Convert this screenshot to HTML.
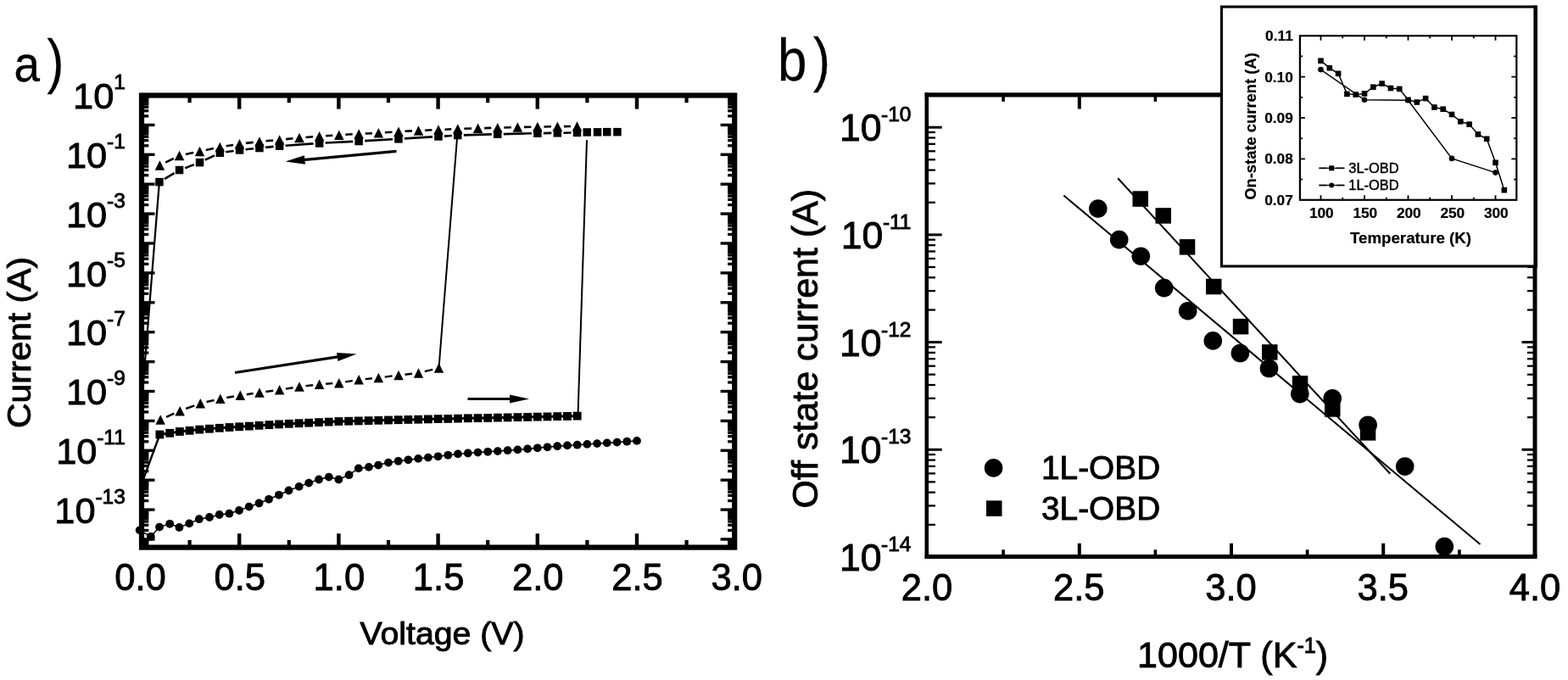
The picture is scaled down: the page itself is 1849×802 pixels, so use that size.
<!DOCTYPE html>
<html><head><meta charset="utf-8"><title>Figure</title>
<style>html,body{margin:0;padding:0;background:#fff;}svg{display:block}text{font-family:"Liberation Sans",Arial,sans-serif;fill:#000;stroke:#000;stroke-width:0.9px}</style>
</head><body>
<svg width="1849" height="802" viewBox="0 0 1849 802">
<rect width="1849" height="802" fill="#fff"/>
<line x1="167.0" y1="136.9" x2="175.3" y2="136.9" stroke="#000" stroke-width="3.3" />
<line x1="866.2" y1="136.9" x2="858.2" y2="136.9" stroke="#000" stroke-width="3.3" />
<line x1="167.0" y1="130.7" x2="175.3" y2="130.7" stroke="#000" stroke-width="3.3" />
<line x1="866.2" y1="130.7" x2="858.2" y2="130.7" stroke="#000" stroke-width="3.3" />
<line x1="167.0" y1="126.4" x2="175.3" y2="126.4" stroke="#000" stroke-width="3.3" />
<line x1="866.2" y1="126.4" x2="858.2" y2="126.4" stroke="#000" stroke-width="3.3" />
<line x1="167.0" y1="123.0" x2="175.3" y2="123.0" stroke="#000" stroke-width="3.3" />
<line x1="866.2" y1="123.0" x2="858.2" y2="123.0" stroke="#000" stroke-width="3.3" />
<line x1="167.0" y1="120.2" x2="175.3" y2="120.2" stroke="#000" stroke-width="3.3" />
<line x1="866.2" y1="120.2" x2="858.2" y2="120.2" stroke="#000" stroke-width="3.3" />
<line x1="167.0" y1="117.9" x2="175.3" y2="117.9" stroke="#000" stroke-width="3.3" />
<line x1="866.2" y1="117.9" x2="858.2" y2="117.9" stroke="#000" stroke-width="3.3" />
<line x1="167.0" y1="115.9" x2="175.3" y2="115.9" stroke="#000" stroke-width="3.3" />
<line x1="866.2" y1="115.9" x2="858.2" y2="115.9" stroke="#000" stroke-width="3.3" />
<line x1="167.0" y1="114.1" x2="175.3" y2="114.1" stroke="#000" stroke-width="3.3" />
<line x1="866.2" y1="114.1" x2="858.2" y2="114.1" stroke="#000" stroke-width="3.3" />
<line x1="167.0" y1="147.4" x2="182.5" y2="147.4" stroke="#000" stroke-width="3.4" />
<line x1="866.2" y1="147.4" x2="849.6" y2="147.4" stroke="#000" stroke-width="3.4" />
<line x1="167.0" y1="171.8" x2="175.3" y2="171.8" stroke="#000" stroke-width="3.3" />
<line x1="866.2" y1="171.8" x2="858.2" y2="171.8" stroke="#000" stroke-width="3.3" />
<line x1="167.0" y1="165.6" x2="175.3" y2="165.6" stroke="#000" stroke-width="3.3" />
<line x1="866.2" y1="165.6" x2="858.2" y2="165.6" stroke="#000" stroke-width="3.3" />
<line x1="167.0" y1="161.3" x2="175.3" y2="161.3" stroke="#000" stroke-width="3.3" />
<line x1="866.2" y1="161.3" x2="858.2" y2="161.3" stroke="#000" stroke-width="3.3" />
<line x1="167.0" y1="157.9" x2="175.3" y2="157.9" stroke="#000" stroke-width="3.3" />
<line x1="866.2" y1="157.9" x2="858.2" y2="157.9" stroke="#000" stroke-width="3.3" />
<line x1="167.0" y1="155.1" x2="175.3" y2="155.1" stroke="#000" stroke-width="3.3" />
<line x1="866.2" y1="155.1" x2="858.2" y2="155.1" stroke="#000" stroke-width="3.3" />
<line x1="167.0" y1="152.8" x2="175.3" y2="152.8" stroke="#000" stroke-width="3.3" />
<line x1="866.2" y1="152.8" x2="858.2" y2="152.8" stroke="#000" stroke-width="3.3" />
<line x1="167.0" y1="150.8" x2="175.3" y2="150.8" stroke="#000" stroke-width="3.3" />
<line x1="866.2" y1="150.8" x2="858.2" y2="150.8" stroke="#000" stroke-width="3.3" />
<line x1="167.0" y1="149.0" x2="175.3" y2="149.0" stroke="#000" stroke-width="3.3" />
<line x1="866.2" y1="149.0" x2="858.2" y2="149.0" stroke="#000" stroke-width="3.3" />
<line x1="167.0" y1="182.3" x2="182.5" y2="182.3" stroke="#000" stroke-width="3.4" />
<line x1="866.2" y1="182.3" x2="849.6" y2="182.3" stroke="#000" stroke-width="3.4" />
<line x1="167.0" y1="206.7" x2="175.3" y2="206.7" stroke="#000" stroke-width="3.3" />
<line x1="866.2" y1="206.7" x2="858.2" y2="206.7" stroke="#000" stroke-width="3.3" />
<line x1="167.0" y1="200.5" x2="175.3" y2="200.5" stroke="#000" stroke-width="3.3" />
<line x1="866.2" y1="200.5" x2="858.2" y2="200.5" stroke="#000" stroke-width="3.3" />
<line x1="167.0" y1="196.2" x2="175.3" y2="196.2" stroke="#000" stroke-width="3.3" />
<line x1="866.2" y1="196.2" x2="858.2" y2="196.2" stroke="#000" stroke-width="3.3" />
<line x1="167.0" y1="192.8" x2="175.3" y2="192.8" stroke="#000" stroke-width="3.3" />
<line x1="866.2" y1="192.8" x2="858.2" y2="192.8" stroke="#000" stroke-width="3.3" />
<line x1="167.0" y1="190.0" x2="175.3" y2="190.0" stroke="#000" stroke-width="3.3" />
<line x1="866.2" y1="190.0" x2="858.2" y2="190.0" stroke="#000" stroke-width="3.3" />
<line x1="167.0" y1="187.7" x2="175.3" y2="187.7" stroke="#000" stroke-width="3.3" />
<line x1="866.2" y1="187.7" x2="858.2" y2="187.7" stroke="#000" stroke-width="3.3" />
<line x1="167.0" y1="185.7" x2="175.3" y2="185.7" stroke="#000" stroke-width="3.3" />
<line x1="866.2" y1="185.7" x2="858.2" y2="185.7" stroke="#000" stroke-width="3.3" />
<line x1="167.0" y1="183.9" x2="175.3" y2="183.9" stroke="#000" stroke-width="3.3" />
<line x1="866.2" y1="183.9" x2="858.2" y2="183.9" stroke="#000" stroke-width="3.3" />
<line x1="167.0" y1="217.2" x2="182.5" y2="217.2" stroke="#000" stroke-width="3.4" />
<line x1="866.2" y1="217.2" x2="849.6" y2="217.2" stroke="#000" stroke-width="3.4" />
<line x1="167.0" y1="241.6" x2="175.3" y2="241.6" stroke="#000" stroke-width="3.3" />
<line x1="866.2" y1="241.6" x2="858.2" y2="241.6" stroke="#000" stroke-width="3.3" />
<line x1="167.0" y1="235.4" x2="175.3" y2="235.4" stroke="#000" stroke-width="3.3" />
<line x1="866.2" y1="235.4" x2="858.2" y2="235.4" stroke="#000" stroke-width="3.3" />
<line x1="167.0" y1="231.1" x2="175.3" y2="231.1" stroke="#000" stroke-width="3.3" />
<line x1="866.2" y1="231.1" x2="858.2" y2="231.1" stroke="#000" stroke-width="3.3" />
<line x1="167.0" y1="227.7" x2="175.3" y2="227.7" stroke="#000" stroke-width="3.3" />
<line x1="866.2" y1="227.7" x2="858.2" y2="227.7" stroke="#000" stroke-width="3.3" />
<line x1="167.0" y1="224.9" x2="175.3" y2="224.9" stroke="#000" stroke-width="3.3" />
<line x1="866.2" y1="224.9" x2="858.2" y2="224.9" stroke="#000" stroke-width="3.3" />
<line x1="167.0" y1="222.6" x2="175.3" y2="222.6" stroke="#000" stroke-width="3.3" />
<line x1="866.2" y1="222.6" x2="858.2" y2="222.6" stroke="#000" stroke-width="3.3" />
<line x1="167.0" y1="220.6" x2="175.3" y2="220.6" stroke="#000" stroke-width="3.3" />
<line x1="866.2" y1="220.6" x2="858.2" y2="220.6" stroke="#000" stroke-width="3.3" />
<line x1="167.0" y1="218.8" x2="175.3" y2="218.8" stroke="#000" stroke-width="3.3" />
<line x1="866.2" y1="218.8" x2="858.2" y2="218.8" stroke="#000" stroke-width="3.3" />
<line x1="167.0" y1="252.1" x2="182.5" y2="252.1" stroke="#000" stroke-width="3.4" />
<line x1="866.2" y1="252.1" x2="849.6" y2="252.1" stroke="#000" stroke-width="3.4" />
<line x1="167.0" y1="276.5" x2="175.3" y2="276.5" stroke="#000" stroke-width="3.3" />
<line x1="866.2" y1="276.5" x2="858.2" y2="276.5" stroke="#000" stroke-width="3.3" />
<line x1="167.0" y1="270.3" x2="175.3" y2="270.3" stroke="#000" stroke-width="3.3" />
<line x1="866.2" y1="270.3" x2="858.2" y2="270.3" stroke="#000" stroke-width="3.3" />
<line x1="167.0" y1="266.0" x2="175.3" y2="266.0" stroke="#000" stroke-width="3.3" />
<line x1="866.2" y1="266.0" x2="858.2" y2="266.0" stroke="#000" stroke-width="3.3" />
<line x1="167.0" y1="262.6" x2="175.3" y2="262.6" stroke="#000" stroke-width="3.3" />
<line x1="866.2" y1="262.6" x2="858.2" y2="262.6" stroke="#000" stroke-width="3.3" />
<line x1="167.0" y1="259.8" x2="175.3" y2="259.8" stroke="#000" stroke-width="3.3" />
<line x1="866.2" y1="259.8" x2="858.2" y2="259.8" stroke="#000" stroke-width="3.3" />
<line x1="167.0" y1="257.5" x2="175.3" y2="257.5" stroke="#000" stroke-width="3.3" />
<line x1="866.2" y1="257.5" x2="858.2" y2="257.5" stroke="#000" stroke-width="3.3" />
<line x1="167.0" y1="255.5" x2="175.3" y2="255.5" stroke="#000" stroke-width="3.3" />
<line x1="866.2" y1="255.5" x2="858.2" y2="255.5" stroke="#000" stroke-width="3.3" />
<line x1="167.0" y1="253.7" x2="175.3" y2="253.7" stroke="#000" stroke-width="3.3" />
<line x1="866.2" y1="253.7" x2="858.2" y2="253.7" stroke="#000" stroke-width="3.3" />
<line x1="167.0" y1="287.0" x2="182.5" y2="287.0" stroke="#000" stroke-width="3.4" />
<line x1="866.2" y1="287.0" x2="849.6" y2="287.0" stroke="#000" stroke-width="3.4" />
<line x1="167.0" y1="311.4" x2="175.3" y2="311.4" stroke="#000" stroke-width="3.3" />
<line x1="866.2" y1="311.4" x2="858.2" y2="311.4" stroke="#000" stroke-width="3.3" />
<line x1="167.0" y1="305.2" x2="175.3" y2="305.2" stroke="#000" stroke-width="3.3" />
<line x1="866.2" y1="305.2" x2="858.2" y2="305.2" stroke="#000" stroke-width="3.3" />
<line x1="167.0" y1="300.9" x2="175.3" y2="300.9" stroke="#000" stroke-width="3.3" />
<line x1="866.2" y1="300.9" x2="858.2" y2="300.9" stroke="#000" stroke-width="3.3" />
<line x1="167.0" y1="297.5" x2="175.3" y2="297.5" stroke="#000" stroke-width="3.3" />
<line x1="866.2" y1="297.5" x2="858.2" y2="297.5" stroke="#000" stroke-width="3.3" />
<line x1="167.0" y1="294.7" x2="175.3" y2="294.7" stroke="#000" stroke-width="3.3" />
<line x1="866.2" y1="294.7" x2="858.2" y2="294.7" stroke="#000" stroke-width="3.3" />
<line x1="167.0" y1="292.4" x2="175.3" y2="292.4" stroke="#000" stroke-width="3.3" />
<line x1="866.2" y1="292.4" x2="858.2" y2="292.4" stroke="#000" stroke-width="3.3" />
<line x1="167.0" y1="290.4" x2="175.3" y2="290.4" stroke="#000" stroke-width="3.3" />
<line x1="866.2" y1="290.4" x2="858.2" y2="290.4" stroke="#000" stroke-width="3.3" />
<line x1="167.0" y1="288.6" x2="175.3" y2="288.6" stroke="#000" stroke-width="3.3" />
<line x1="866.2" y1="288.6" x2="858.2" y2="288.6" stroke="#000" stroke-width="3.3" />
<line x1="167.0" y1="321.9" x2="182.5" y2="321.9" stroke="#000" stroke-width="3.4" />
<line x1="866.2" y1="321.9" x2="849.6" y2="321.9" stroke="#000" stroke-width="3.4" />
<line x1="167.0" y1="346.3" x2="175.3" y2="346.3" stroke="#000" stroke-width="3.3" />
<line x1="866.2" y1="346.3" x2="858.2" y2="346.3" stroke="#000" stroke-width="3.3" />
<line x1="167.0" y1="340.1" x2="175.3" y2="340.1" stroke="#000" stroke-width="3.3" />
<line x1="866.2" y1="340.1" x2="858.2" y2="340.1" stroke="#000" stroke-width="3.3" />
<line x1="167.0" y1="335.8" x2="175.3" y2="335.8" stroke="#000" stroke-width="3.3" />
<line x1="866.2" y1="335.8" x2="858.2" y2="335.8" stroke="#000" stroke-width="3.3" />
<line x1="167.0" y1="332.4" x2="175.3" y2="332.4" stroke="#000" stroke-width="3.3" />
<line x1="866.2" y1="332.4" x2="858.2" y2="332.4" stroke="#000" stroke-width="3.3" />
<line x1="167.0" y1="329.6" x2="175.3" y2="329.6" stroke="#000" stroke-width="3.3" />
<line x1="866.2" y1="329.6" x2="858.2" y2="329.6" stroke="#000" stroke-width="3.3" />
<line x1="167.0" y1="327.3" x2="175.3" y2="327.3" stroke="#000" stroke-width="3.3" />
<line x1="866.2" y1="327.3" x2="858.2" y2="327.3" stroke="#000" stroke-width="3.3" />
<line x1="167.0" y1="325.3" x2="175.3" y2="325.3" stroke="#000" stroke-width="3.3" />
<line x1="866.2" y1="325.3" x2="858.2" y2="325.3" stroke="#000" stroke-width="3.3" />
<line x1="167.0" y1="323.5" x2="175.3" y2="323.5" stroke="#000" stroke-width="3.3" />
<line x1="866.2" y1="323.5" x2="858.2" y2="323.5" stroke="#000" stroke-width="3.3" />
<line x1="167.0" y1="356.8" x2="182.5" y2="356.8" stroke="#000" stroke-width="3.4" />
<line x1="866.2" y1="356.8" x2="849.6" y2="356.8" stroke="#000" stroke-width="3.4" />
<line x1="167.0" y1="381.2" x2="175.3" y2="381.2" stroke="#000" stroke-width="3.3" />
<line x1="866.2" y1="381.2" x2="858.2" y2="381.2" stroke="#000" stroke-width="3.3" />
<line x1="167.0" y1="375.0" x2="175.3" y2="375.0" stroke="#000" stroke-width="3.3" />
<line x1="866.2" y1="375.0" x2="858.2" y2="375.0" stroke="#000" stroke-width="3.3" />
<line x1="167.0" y1="370.7" x2="175.3" y2="370.7" stroke="#000" stroke-width="3.3" />
<line x1="866.2" y1="370.7" x2="858.2" y2="370.7" stroke="#000" stroke-width="3.3" />
<line x1="167.0" y1="367.3" x2="175.3" y2="367.3" stroke="#000" stroke-width="3.3" />
<line x1="866.2" y1="367.3" x2="858.2" y2="367.3" stroke="#000" stroke-width="3.3" />
<line x1="167.0" y1="364.5" x2="175.3" y2="364.5" stroke="#000" stroke-width="3.3" />
<line x1="866.2" y1="364.5" x2="858.2" y2="364.5" stroke="#000" stroke-width="3.3" />
<line x1="167.0" y1="362.2" x2="175.3" y2="362.2" stroke="#000" stroke-width="3.3" />
<line x1="866.2" y1="362.2" x2="858.2" y2="362.2" stroke="#000" stroke-width="3.3" />
<line x1="167.0" y1="360.2" x2="175.3" y2="360.2" stroke="#000" stroke-width="3.3" />
<line x1="866.2" y1="360.2" x2="858.2" y2="360.2" stroke="#000" stroke-width="3.3" />
<line x1="167.0" y1="358.4" x2="175.3" y2="358.4" stroke="#000" stroke-width="3.3" />
<line x1="866.2" y1="358.4" x2="858.2" y2="358.4" stroke="#000" stroke-width="3.3" />
<line x1="167.0" y1="391.7" x2="182.5" y2="391.7" stroke="#000" stroke-width="3.4" />
<line x1="866.2" y1="391.7" x2="849.6" y2="391.7" stroke="#000" stroke-width="3.4" />
<line x1="167.0" y1="416.1" x2="175.3" y2="416.1" stroke="#000" stroke-width="3.3" />
<line x1="866.2" y1="416.1" x2="858.2" y2="416.1" stroke="#000" stroke-width="3.3" />
<line x1="167.0" y1="409.9" x2="175.3" y2="409.9" stroke="#000" stroke-width="3.3" />
<line x1="866.2" y1="409.9" x2="858.2" y2="409.9" stroke="#000" stroke-width="3.3" />
<line x1="167.0" y1="405.6" x2="175.3" y2="405.6" stroke="#000" stroke-width="3.3" />
<line x1="866.2" y1="405.6" x2="858.2" y2="405.6" stroke="#000" stroke-width="3.3" />
<line x1="167.0" y1="402.2" x2="175.3" y2="402.2" stroke="#000" stroke-width="3.3" />
<line x1="866.2" y1="402.2" x2="858.2" y2="402.2" stroke="#000" stroke-width="3.3" />
<line x1="167.0" y1="399.4" x2="175.3" y2="399.4" stroke="#000" stroke-width="3.3" />
<line x1="866.2" y1="399.4" x2="858.2" y2="399.4" stroke="#000" stroke-width="3.3" />
<line x1="167.0" y1="397.1" x2="175.3" y2="397.1" stroke="#000" stroke-width="3.3" />
<line x1="866.2" y1="397.1" x2="858.2" y2="397.1" stroke="#000" stroke-width="3.3" />
<line x1="167.0" y1="395.1" x2="175.3" y2="395.1" stroke="#000" stroke-width="3.3" />
<line x1="866.2" y1="395.1" x2="858.2" y2="395.1" stroke="#000" stroke-width="3.3" />
<line x1="167.0" y1="393.3" x2="175.3" y2="393.3" stroke="#000" stroke-width="3.3" />
<line x1="866.2" y1="393.3" x2="858.2" y2="393.3" stroke="#000" stroke-width="3.3" />
<line x1="167.0" y1="426.6" x2="182.5" y2="426.6" stroke="#000" stroke-width="3.4" />
<line x1="866.2" y1="426.6" x2="849.6" y2="426.6" stroke="#000" stroke-width="3.4" />
<line x1="167.0" y1="451.0" x2="175.3" y2="451.0" stroke="#000" stroke-width="3.3" />
<line x1="866.2" y1="451.0" x2="858.2" y2="451.0" stroke="#000" stroke-width="3.3" />
<line x1="167.0" y1="444.8" x2="175.3" y2="444.8" stroke="#000" stroke-width="3.3" />
<line x1="866.2" y1="444.8" x2="858.2" y2="444.8" stroke="#000" stroke-width="3.3" />
<line x1="167.0" y1="440.5" x2="175.3" y2="440.5" stroke="#000" stroke-width="3.3" />
<line x1="866.2" y1="440.5" x2="858.2" y2="440.5" stroke="#000" stroke-width="3.3" />
<line x1="167.0" y1="437.1" x2="175.3" y2="437.1" stroke="#000" stroke-width="3.3" />
<line x1="866.2" y1="437.1" x2="858.2" y2="437.1" stroke="#000" stroke-width="3.3" />
<line x1="167.0" y1="434.3" x2="175.3" y2="434.3" stroke="#000" stroke-width="3.3" />
<line x1="866.2" y1="434.3" x2="858.2" y2="434.3" stroke="#000" stroke-width="3.3" />
<line x1="167.0" y1="432.0" x2="175.3" y2="432.0" stroke="#000" stroke-width="3.3" />
<line x1="866.2" y1="432.0" x2="858.2" y2="432.0" stroke="#000" stroke-width="3.3" />
<line x1="167.0" y1="430.0" x2="175.3" y2="430.0" stroke="#000" stroke-width="3.3" />
<line x1="866.2" y1="430.0" x2="858.2" y2="430.0" stroke="#000" stroke-width="3.3" />
<line x1="167.0" y1="428.2" x2="175.3" y2="428.2" stroke="#000" stroke-width="3.3" />
<line x1="866.2" y1="428.2" x2="858.2" y2="428.2" stroke="#000" stroke-width="3.3" />
<line x1="167.0" y1="461.5" x2="182.5" y2="461.5" stroke="#000" stroke-width="3.4" />
<line x1="866.2" y1="461.5" x2="849.6" y2="461.5" stroke="#000" stroke-width="3.4" />
<line x1="167.0" y1="485.9" x2="175.3" y2="485.9" stroke="#000" stroke-width="3.3" />
<line x1="866.2" y1="485.9" x2="858.2" y2="485.9" stroke="#000" stroke-width="3.3" />
<line x1="167.0" y1="479.7" x2="175.3" y2="479.7" stroke="#000" stroke-width="3.3" />
<line x1="866.2" y1="479.7" x2="858.2" y2="479.7" stroke="#000" stroke-width="3.3" />
<line x1="167.0" y1="475.4" x2="175.3" y2="475.4" stroke="#000" stroke-width="3.3" />
<line x1="866.2" y1="475.4" x2="858.2" y2="475.4" stroke="#000" stroke-width="3.3" />
<line x1="167.0" y1="472.0" x2="175.3" y2="472.0" stroke="#000" stroke-width="3.3" />
<line x1="866.2" y1="472.0" x2="858.2" y2="472.0" stroke="#000" stroke-width="3.3" />
<line x1="167.0" y1="469.2" x2="175.3" y2="469.2" stroke="#000" stroke-width="3.3" />
<line x1="866.2" y1="469.2" x2="858.2" y2="469.2" stroke="#000" stroke-width="3.3" />
<line x1="167.0" y1="466.9" x2="175.3" y2="466.9" stroke="#000" stroke-width="3.3" />
<line x1="866.2" y1="466.9" x2="858.2" y2="466.9" stroke="#000" stroke-width="3.3" />
<line x1="167.0" y1="464.9" x2="175.3" y2="464.9" stroke="#000" stroke-width="3.3" />
<line x1="866.2" y1="464.9" x2="858.2" y2="464.9" stroke="#000" stroke-width="3.3" />
<line x1="167.0" y1="463.1" x2="175.3" y2="463.1" stroke="#000" stroke-width="3.3" />
<line x1="866.2" y1="463.1" x2="858.2" y2="463.1" stroke="#000" stroke-width="3.3" />
<line x1="167.0" y1="496.4" x2="182.5" y2="496.4" stroke="#000" stroke-width="3.4" />
<line x1="866.2" y1="496.4" x2="849.6" y2="496.4" stroke="#000" stroke-width="3.4" />
<line x1="167.0" y1="520.8" x2="175.3" y2="520.8" stroke="#000" stroke-width="3.3" />
<line x1="866.2" y1="520.8" x2="858.2" y2="520.8" stroke="#000" stroke-width="3.3" />
<line x1="167.0" y1="514.6" x2="175.3" y2="514.6" stroke="#000" stroke-width="3.3" />
<line x1="866.2" y1="514.6" x2="858.2" y2="514.6" stroke="#000" stroke-width="3.3" />
<line x1="167.0" y1="510.3" x2="175.3" y2="510.3" stroke="#000" stroke-width="3.3" />
<line x1="866.2" y1="510.3" x2="858.2" y2="510.3" stroke="#000" stroke-width="3.3" />
<line x1="167.0" y1="506.9" x2="175.3" y2="506.9" stroke="#000" stroke-width="3.3" />
<line x1="866.2" y1="506.9" x2="858.2" y2="506.9" stroke="#000" stroke-width="3.3" />
<line x1="167.0" y1="504.1" x2="175.3" y2="504.1" stroke="#000" stroke-width="3.3" />
<line x1="866.2" y1="504.1" x2="858.2" y2="504.1" stroke="#000" stroke-width="3.3" />
<line x1="167.0" y1="501.8" x2="175.3" y2="501.8" stroke="#000" stroke-width="3.3" />
<line x1="866.2" y1="501.8" x2="858.2" y2="501.8" stroke="#000" stroke-width="3.3" />
<line x1="167.0" y1="499.8" x2="175.3" y2="499.8" stroke="#000" stroke-width="3.3" />
<line x1="866.2" y1="499.8" x2="858.2" y2="499.8" stroke="#000" stroke-width="3.3" />
<line x1="167.0" y1="498.0" x2="175.3" y2="498.0" stroke="#000" stroke-width="3.3" />
<line x1="866.2" y1="498.0" x2="858.2" y2="498.0" stroke="#000" stroke-width="3.3" />
<line x1="167.0" y1="531.3" x2="182.5" y2="531.3" stroke="#000" stroke-width="3.4" />
<line x1="866.2" y1="531.3" x2="849.6" y2="531.3" stroke="#000" stroke-width="3.4" />
<line x1="167.0" y1="555.7" x2="175.3" y2="555.7" stroke="#000" stroke-width="3.3" />
<line x1="866.2" y1="555.7" x2="858.2" y2="555.7" stroke="#000" stroke-width="3.3" />
<line x1="167.0" y1="549.5" x2="175.3" y2="549.5" stroke="#000" stroke-width="3.3" />
<line x1="866.2" y1="549.5" x2="858.2" y2="549.5" stroke="#000" stroke-width="3.3" />
<line x1="167.0" y1="545.2" x2="175.3" y2="545.2" stroke="#000" stroke-width="3.3" />
<line x1="866.2" y1="545.2" x2="858.2" y2="545.2" stroke="#000" stroke-width="3.3" />
<line x1="167.0" y1="541.8" x2="175.3" y2="541.8" stroke="#000" stroke-width="3.3" />
<line x1="866.2" y1="541.8" x2="858.2" y2="541.8" stroke="#000" stroke-width="3.3" />
<line x1="167.0" y1="539.0" x2="175.3" y2="539.0" stroke="#000" stroke-width="3.3" />
<line x1="866.2" y1="539.0" x2="858.2" y2="539.0" stroke="#000" stroke-width="3.3" />
<line x1="167.0" y1="536.7" x2="175.3" y2="536.7" stroke="#000" stroke-width="3.3" />
<line x1="866.2" y1="536.7" x2="858.2" y2="536.7" stroke="#000" stroke-width="3.3" />
<line x1="167.0" y1="534.7" x2="175.3" y2="534.7" stroke="#000" stroke-width="3.3" />
<line x1="866.2" y1="534.7" x2="858.2" y2="534.7" stroke="#000" stroke-width="3.3" />
<line x1="167.0" y1="532.9" x2="175.3" y2="532.9" stroke="#000" stroke-width="3.3" />
<line x1="866.2" y1="532.9" x2="858.2" y2="532.9" stroke="#000" stroke-width="3.3" />
<line x1="167.0" y1="566.2" x2="182.5" y2="566.2" stroke="#000" stroke-width="3.4" />
<line x1="866.2" y1="566.2" x2="849.6" y2="566.2" stroke="#000" stroke-width="3.4" />
<line x1="167.0" y1="590.6" x2="175.3" y2="590.6" stroke="#000" stroke-width="3.3" />
<line x1="866.2" y1="590.6" x2="858.2" y2="590.6" stroke="#000" stroke-width="3.3" />
<line x1="167.0" y1="584.4" x2="175.3" y2="584.4" stroke="#000" stroke-width="3.3" />
<line x1="866.2" y1="584.4" x2="858.2" y2="584.4" stroke="#000" stroke-width="3.3" />
<line x1="167.0" y1="580.1" x2="175.3" y2="580.1" stroke="#000" stroke-width="3.3" />
<line x1="866.2" y1="580.1" x2="858.2" y2="580.1" stroke="#000" stroke-width="3.3" />
<line x1="167.0" y1="576.7" x2="175.3" y2="576.7" stroke="#000" stroke-width="3.3" />
<line x1="866.2" y1="576.7" x2="858.2" y2="576.7" stroke="#000" stroke-width="3.3" />
<line x1="167.0" y1="573.9" x2="175.3" y2="573.9" stroke="#000" stroke-width="3.3" />
<line x1="866.2" y1="573.9" x2="858.2" y2="573.9" stroke="#000" stroke-width="3.3" />
<line x1="167.0" y1="571.6" x2="175.3" y2="571.6" stroke="#000" stroke-width="3.3" />
<line x1="866.2" y1="571.6" x2="858.2" y2="571.6" stroke="#000" stroke-width="3.3" />
<line x1="167.0" y1="569.6" x2="175.3" y2="569.6" stroke="#000" stroke-width="3.3" />
<line x1="866.2" y1="569.6" x2="858.2" y2="569.6" stroke="#000" stroke-width="3.3" />
<line x1="167.0" y1="567.8" x2="175.3" y2="567.8" stroke="#000" stroke-width="3.3" />
<line x1="866.2" y1="567.8" x2="858.2" y2="567.8" stroke="#000" stroke-width="3.3" />
<line x1="167.0" y1="601.1" x2="182.5" y2="601.1" stroke="#000" stroke-width="3.4" />
<line x1="866.2" y1="601.1" x2="849.6" y2="601.1" stroke="#000" stroke-width="3.4" />
<line x1="167.0" y1="625.5" x2="175.3" y2="625.5" stroke="#000" stroke-width="3.3" />
<line x1="866.2" y1="625.5" x2="858.2" y2="625.5" stroke="#000" stroke-width="3.3" />
<line x1="167.0" y1="619.3" x2="175.3" y2="619.3" stroke="#000" stroke-width="3.3" />
<line x1="866.2" y1="619.3" x2="858.2" y2="619.3" stroke="#000" stroke-width="3.3" />
<line x1="167.0" y1="615.0" x2="175.3" y2="615.0" stroke="#000" stroke-width="3.3" />
<line x1="866.2" y1="615.0" x2="858.2" y2="615.0" stroke="#000" stroke-width="3.3" />
<line x1="167.0" y1="611.6" x2="175.3" y2="611.6" stroke="#000" stroke-width="3.3" />
<line x1="866.2" y1="611.6" x2="858.2" y2="611.6" stroke="#000" stroke-width="3.3" />
<line x1="167.0" y1="608.8" x2="175.3" y2="608.8" stroke="#000" stroke-width="3.3" />
<line x1="866.2" y1="608.8" x2="858.2" y2="608.8" stroke="#000" stroke-width="3.3" />
<line x1="167.0" y1="606.5" x2="175.3" y2="606.5" stroke="#000" stroke-width="3.3" />
<line x1="866.2" y1="606.5" x2="858.2" y2="606.5" stroke="#000" stroke-width="3.3" />
<line x1="167.0" y1="604.5" x2="175.3" y2="604.5" stroke="#000" stroke-width="3.3" />
<line x1="866.2" y1="604.5" x2="858.2" y2="604.5" stroke="#000" stroke-width="3.3" />
<line x1="167.0" y1="602.7" x2="175.3" y2="602.7" stroke="#000" stroke-width="3.3" />
<line x1="866.2" y1="602.7" x2="858.2" y2="602.7" stroke="#000" stroke-width="3.3" />
<line x1="167.0" y1="636.0" x2="182.5" y2="636.0" stroke="#000" stroke-width="3.4" />
<line x1="866.2" y1="636.0" x2="849.6" y2="636.0" stroke="#000" stroke-width="3.4" />
<line x1="167.0" y1="643.7" x2="175.3" y2="643.7" stroke="#000" stroke-width="3.3" />
<line x1="866.2" y1="643.7" x2="858.2" y2="643.7" stroke="#000" stroke-width="3.3" />
<line x1="167.0" y1="641.4" x2="175.3" y2="641.4" stroke="#000" stroke-width="3.3" />
<line x1="866.2" y1="641.4" x2="858.2" y2="641.4" stroke="#000" stroke-width="3.3" />
<line x1="167.0" y1="639.4" x2="175.3" y2="639.4" stroke="#000" stroke-width="3.3" />
<line x1="866.2" y1="639.4" x2="858.2" y2="639.4" stroke="#000" stroke-width="3.3" />
<line x1="167.0" y1="637.6" x2="175.3" y2="637.6" stroke="#000" stroke-width="3.3" />
<line x1="866.2" y1="637.6" x2="858.2" y2="637.6" stroke="#000" stroke-width="3.3" />
<line x1="223.6" y1="112.5" x2="223.6" y2="121.2" stroke="#000" stroke-width="4.2" />
<line x1="223.6" y1="645.6" x2="223.6" y2="637.0" stroke="#000" stroke-width="4.2" />
<line x1="282.2" y1="112.5" x2="282.2" y2="128.6" stroke="#000" stroke-width="4.4" />
<line x1="282.2" y1="645.6" x2="282.2" y2="629.3" stroke="#000" stroke-width="4.4" />
<line x1="340.8" y1="112.5" x2="340.8" y2="121.2" stroke="#000" stroke-width="4.2" />
<line x1="340.8" y1="645.6" x2="340.8" y2="637.0" stroke="#000" stroke-width="4.2" />
<line x1="399.4" y1="112.5" x2="399.4" y2="128.6" stroke="#000" stroke-width="4.4" />
<line x1="399.4" y1="645.6" x2="399.4" y2="629.3" stroke="#000" stroke-width="4.4" />
<line x1="458.0" y1="112.5" x2="458.0" y2="121.2" stroke="#000" stroke-width="4.2" />
<line x1="458.0" y1="645.6" x2="458.0" y2="637.0" stroke="#000" stroke-width="4.2" />
<line x1="516.6" y1="112.5" x2="516.6" y2="128.6" stroke="#000" stroke-width="4.4" />
<line x1="516.6" y1="645.6" x2="516.6" y2="629.3" stroke="#000" stroke-width="4.4" />
<line x1="575.2" y1="112.5" x2="575.2" y2="121.2" stroke="#000" stroke-width="4.2" />
<line x1="575.2" y1="645.6" x2="575.2" y2="637.0" stroke="#000" stroke-width="4.2" />
<line x1="633.8" y1="112.5" x2="633.8" y2="128.6" stroke="#000" stroke-width="4.4" />
<line x1="633.8" y1="645.6" x2="633.8" y2="629.3" stroke="#000" stroke-width="4.4" />
<line x1="692.4" y1="112.5" x2="692.4" y2="121.2" stroke="#000" stroke-width="4.2" />
<line x1="692.4" y1="645.6" x2="692.4" y2="637.0" stroke="#000" stroke-width="4.2" />
<line x1="751.0" y1="112.5" x2="751.0" y2="128.6" stroke="#000" stroke-width="4.4" />
<line x1="751.0" y1="645.6" x2="751.0" y2="629.3" stroke="#000" stroke-width="4.4" />
<line x1="809.6" y1="112.5" x2="809.6" y2="121.2" stroke="#000" stroke-width="4.2" />
<line x1="809.6" y1="645.6" x2="809.6" y2="637.0" stroke="#000" stroke-width="4.2" />
<rect x="167.0" y="112.5" width="699.2" height="533.1" fill="none" stroke="#000" stroke-width="6.2"/>
<text x="147.8" y="128.2" font-size="43.4" text-anchor="end">10<tspan dy="-23" dx="-0.2" font-size="24.5">1</tspan></text>
<text x="147.8" y="198.0" font-size="43.4" text-anchor="end">10<tspan dy="-23" dx="-0.2" font-size="24.5">-1</tspan></text>
<text x="147.8" y="267.8" font-size="43.4" text-anchor="end">10<tspan dy="-23" dx="-0.2" font-size="24.5">-3</tspan></text>
<text x="147.8" y="337.6" font-size="43.4" text-anchor="end">10<tspan dy="-23" dx="-0.2" font-size="24.5">-5</tspan></text>
<text x="147.8" y="407.4" font-size="43.4" text-anchor="end">10<tspan dy="-23" dx="-0.2" font-size="24.5">-7</tspan></text>
<text x="147.8" y="477.2" font-size="43.4" text-anchor="end">10<tspan dy="-23" dx="-0.2" font-size="24.5">-9</tspan></text>
<text x="147.8" y="547.0" font-size="43.4" text-anchor="end">10<tspan dy="-23" dx="-0.2" font-size="24.5">-11</tspan></text>
<text x="147.8" y="616.8" font-size="43.4" text-anchor="end">10<tspan dy="-23" dx="-0.2" font-size="24.5">-13</tspan></text>
<text x="165.5" y="695.6" font-size="43.6" text-anchor="middle" font-weight="normal" >0.0</text>
<text x="282.7" y="695.6" font-size="43.6" text-anchor="middle" font-weight="normal" >0.5</text>
<text x="399.9" y="695.6" font-size="43.6" text-anchor="middle" font-weight="normal" >1.0</text>
<text x="517.1" y="695.6" font-size="43.6" text-anchor="middle" font-weight="normal" >1.5</text>
<text x="634.3" y="695.6" font-size="43.6" text-anchor="middle" font-weight="normal" >2.0</text>
<text x="751.5" y="695.6" font-size="43.6" text-anchor="middle" font-weight="normal" >2.5</text>
<text x="868.7" y="695.6" font-size="43.6" text-anchor="middle" font-weight="normal" >3.0</text>
<text transform="translate(521.5,759.5) scale(1.085,1)" font-size="36.2" text-anchor="middle">Voltage (V)</text>
<text transform="translate(35.8,404) rotate(-90) scale(1.07,1)" font-size="38.2" text-anchor="middle">Current (A)</text>
<text transform="translate(16.5,96) scale(0.93,1)" font-size="59" style="stroke-width:0.3px">a</text>
<text transform="translate(55.5,96) scale(0.85,1)" font-size="70" style="stroke-width:0.3px">)</text>
<line x1="195.1" y1="191.6" x2="204.9" y2="186.8" stroke="#000" stroke-width="2.6" />
<line x1="218.9" y1="181.9" x2="228.2" y2="180.0" stroke="#000" stroke-width="2.6" />
<line x1="242.8" y1="176.9" x2="252.0" y2="175.0" stroke="#000" stroke-width="2.6" />
<line x1="266.7" y1="172.3" x2="275.1" y2="171.0" stroke="#000" stroke-width="2.6" />
<line x1="289.9" y1="168.9" x2="298.6" y2="167.9" stroke="#000" stroke-width="2.6" />
<line x1="313.5" y1="166.3" x2="322.1" y2="165.6" stroke="#000" stroke-width="2.6" />
<line x1="337.1" y1="164.1" x2="345.5" y2="163.3" stroke="#000" stroke-width="2.6" />
<line x1="360.5" y1="162.0" x2="369.1" y2="161.3" stroke="#000" stroke-width="2.6" />
<line x1="384.1" y1="160.3" x2="392.3" y2="159.7" stroke="#000" stroke-width="2.6" />
<line x1="407.3" y1="158.8" x2="415.7" y2="158.3" stroke="#000" stroke-width="2.6" />
<line x1="430.7" y1="157.5" x2="438.9" y2="157.2" stroke="#000" stroke-width="2.6" />
<line x1="453.9" y1="156.3" x2="462.5" y2="155.7" stroke="#000" stroke-width="2.6" />
<line x1="477.5" y1="154.8" x2="486.0" y2="154.4" stroke="#000" stroke-width="2.6" />
<line x1="501.0" y1="153.7" x2="509.5" y2="153.3" stroke="#000" stroke-width="2.6" />
<line x1="524.5" y1="152.7" x2="532.3" y2="152.3" stroke="#000" stroke-width="2.6" />
<line x1="547.3" y1="151.8" x2="556.1" y2="151.5" stroke="#000" stroke-width="2.6" />
<line x1="571.1" y1="151.1" x2="579.3" y2="150.9" stroke="#000" stroke-width="2.6" />
<line x1="594.3" y1="150.5" x2="602.9" y2="150.3" stroke="#000" stroke-width="2.6" />
<line x1="617.9" y1="149.9" x2="626.4" y2="149.8" stroke="#000" stroke-width="2.6" />
<line x1="641.4" y1="149.5" x2="649.9" y2="149.3" stroke="#000" stroke-width="2.6" />
<line x1="664.9" y1="149.1" x2="673.0" y2="149.0" stroke="#000" stroke-width="2.6" />
<line x1="193.9" y1="211.1" x2="205.6" y2="204.2" stroke="#000" stroke-width="2.6" />
<line x1="218.2" y1="198.2" x2="228.9" y2="194.1" stroke="#000" stroke-width="2.6" />
<line x1="241.8" y1="188.7" x2="253.0" y2="183.3" stroke="#000" stroke-width="2.6" />
<line x1="266.2" y1="179.3" x2="275.6" y2="178.0" stroke="#000" stroke-width="2.6" />
<line x1="289.5" y1="176.3" x2="299.0" y2="175.3" stroke="#000" stroke-width="2.6" />
<line x1="313.0" y1="173.9" x2="322.6" y2="172.9" stroke="#000" stroke-width="2.6" />
<line x1="336.6" y1="171.7" x2="369.6" y2="169.4" stroke="#000" stroke-width="2.6" />
<line x1="383.6" y1="168.5" x2="416.2" y2="166.9" stroke="#000" stroke-width="2.6" />
<line x1="430.2" y1="166.1" x2="463.0" y2="164.2" stroke="#000" stroke-width="2.6" />
<line x1="477.0" y1="163.4" x2="510.0" y2="161.4" stroke="#000" stroke-width="2.6" />
<line x1="524.0" y1="160.6" x2="532.8" y2="160.0" stroke="#000" stroke-width="2.6" />
<line x1="546.8" y1="159.4" x2="579.8" y2="158.4" stroke="#000" stroke-width="2.6" />
<line x1="593.8" y1="158.1" x2="626.9" y2="157.3" stroke="#000" stroke-width="2.6" />
<line x1="640.9" y1="157.1" x2="650.4" y2="156.9" stroke="#000" stroke-width="2.6" />
<line x1="664.4" y1="156.7" x2="673.5" y2="156.5" stroke="#000" stroke-width="2.6" />
<polygon points="182.7,200.7 194.2,200.7 188.4,189.2"/>
<polygon points="205.8,189.2 217.3,189.2 211.6,177.8"/>
<polygon points="229.8,184.2 241.2,184.2 235.5,172.7"/>
<polygon points="253.6,179.2 265.1,179.2 259.3,167.8"/>
<polygon points="276.8,175.6 288.2,175.6 282.5,164.1"/>
<polygon points="300.2,172.8 311.8,172.8 306.0,161.2"/>
<polygon points="323.9,170.7 335.4,170.7 329.6,159.2"/>
<polygon points="347.2,168.2 358.8,168.2 353.0,156.8"/>
<polygon points="370.9,166.6 382.4,166.6 376.6,155.1"/>
<polygon points="394.1,164.9 405.6,164.9 399.8,153.4"/>
<polygon points="417.4,163.7 428.9,163.7 423.2,152.2"/>
<polygon points="440.6,162.6 452.1,162.6 446.4,151.1"/>
<polygon points="464.2,160.9 475.8,160.9 470.0,149.4"/>
<polygon points="487.8,159.8 499.2,159.8 493.5,148.2"/>
<polygon points="511.2,158.8 522.8,158.8 517.0,147.2"/>
<polygon points="534.0,157.8 545.5,157.8 539.8,146.2"/>
<polygon points="557.9,157.1 569.4,157.1 563.6,145.6"/>
<polygon points="581.0,156.4 592.5,156.4 586.8,144.9"/>
<polygon points="604.6,155.8 616.1,155.8 610.4,144.3"/>
<polygon points="628.1,155.3 639.6,155.3 633.9,143.8"/>
<polygon points="651.6,154.9 663.1,154.9 657.4,143.4"/>
<polygon points="674.8,154.7 686.2,154.7 680.5,143.2"/>
<rect x="183.2" y="209.9" width="9.5" height="9.5"/>
<rect x="206.8" y="195.8" width="9.5" height="9.5"/>
<rect x="230.8" y="186.9" width="9.5" height="9.5"/>
<rect x="254.6" y="175.6" width="9.5" height="9.5"/>
<rect x="277.8" y="172.2" width="9.5" height="9.5"/>
<rect x="301.2" y="169.8" width="9.5" height="9.5"/>
<rect x="324.9" y="167.4" width="9.5" height="9.5"/>
<rect x="371.9" y="164.2" width="9.5" height="9.5"/>
<rect x="418.4" y="161.8" width="9.5" height="9.5"/>
<rect x="465.2" y="159.1" width="9.5" height="9.5"/>
<rect x="512.2" y="156.2" width="9.5" height="9.5"/>
<rect x="535.0" y="154.8" width="9.5" height="9.5"/>
<rect x="582.0" y="153.4" width="9.5" height="9.5"/>
<rect x="629.1" y="152.4" width="9.5" height="9.5"/>
<rect x="652.6" y="152.1" width="9.5" height="9.5"/>
<rect x="675.8" y="151.7" width="9.5" height="9.5"/>
<rect x="687.5" y="151.2" width="9.5" height="9.5"/>
<rect x="699.8" y="151.1" width="9.5" height="9.5"/>
<rect x="711.0" y="150.9" width="9.5" height="9.5"/>
<rect x="723.2" y="150.9" width="9.5" height="9.5"/>
<polyline points="187.9,214.7 165.5,495.0" fill="none" stroke="#000" stroke-width="2.2" />
<polyline points="539.8,153.0 517.5,434.0" fill="none" stroke="#000" stroke-width="2.0" />
<polyline points="692.0,165.0 681.5,490.0" fill="none" stroke="#000" stroke-width="2.0" />
<line x1="196.0" y1="491.9" x2="205.4" y2="487.7" stroke="#000" stroke-width="2.4" />
<line x1="219.2" y1="482.0" x2="229.3" y2="478.3" stroke="#000" stroke-width="2.4" />
<line x1="243.6" y1="474.0" x2="252.5" y2="472.0" stroke="#000" stroke-width="2.4" />
<line x1="267.2" y1="469.0" x2="275.9" y2="467.5" stroke="#000" stroke-width="2.4" />
<line x1="290.7" y1="465.2" x2="298.6" y2="464.0" stroke="#000" stroke-width="2.4" />
<line x1="313.4" y1="462.0" x2="322.2" y2="460.8" stroke="#000" stroke-width="2.4" />
<line x1="337.0" y1="458.6" x2="345.6" y2="457.2" stroke="#000" stroke-width="2.4" />
<line x1="360.5" y1="455.1" x2="369.1" y2="454.2" stroke="#000" stroke-width="2.4" />
<line x1="384.1" y1="452.8" x2="392.3" y2="452.1" stroke="#000" stroke-width="2.4" />
<line x1="407.2" y1="450.4" x2="415.8" y2="449.1" stroke="#000" stroke-width="2.4" />
<line x1="430.7" y1="447.1" x2="438.9" y2="446.3" stroke="#000" stroke-width="2.4" />
<line x1="453.8" y1="444.6" x2="462.6" y2="443.4" stroke="#000" stroke-width="2.4" />
<line x1="477.5" y1="441.7" x2="486.0" y2="440.8" stroke="#000" stroke-width="2.4" />
<line x1="500.8" y1="438.2" x2="510.2" y2="435.8" stroke="#000" stroke-width="2.4" />
<polygon points="183.4,500.8 194.9,500.8 189.2,489.2"/>
<polygon points="206.4,490.4 217.9,490.4 212.2,478.9"/>
<polygon points="230.6,481.4 242.1,481.4 236.3,469.9"/>
<polygon points="254.1,476.1 265.6,476.1 259.8,464.6"/>
<polygon points="277.6,471.9 289.1,471.9 283.3,460.4"/>
<polygon points="300.2,468.8 311.8,468.8 306.0,457.2"/>
<polygon points="323.9,465.6 335.4,465.6 329.6,454.1"/>
<polygon points="347.2,461.8 358.8,461.8 353.0,450.2"/>
<polygon points="370.9,459.1 382.4,459.1 376.6,447.6"/>
<polygon points="394.1,457.4 405.6,457.4 399.8,445.9"/>
<polygon points="417.4,453.6 428.9,453.6 423.2,442.1"/>
<polygon points="440.6,451.2 452.1,451.2 446.4,439.8"/>
<polygon points="464.2,448.2 475.8,448.2 470.0,436.8"/>
<polygon points="487.8,445.8 499.2,445.8 493.5,434.2"/>
<polygon points="511.8,439.8 523.2,439.8 517.5,428.2"/>
<polyline points="166.5,572.0 188.4,512.5" fill="none" stroke="#000" stroke-width="2.4" />
<polyline points="188.4,512.5 200.2,510.8 211.9,509.0 223.6,507.8 235.3,506.6 247.0,505.7 258.8,504.8 270.5,504.0 282.2,503.3 293.9,502.6 305.6,501.8 317.4,501.1 329.1,500.4 340.8,499.8 352.5,499.2 364.2,498.7 376.0,498.1 387.7,497.6 399.4,497.0 411.1,496.7 422.8,496.4 434.6,496.1 446.3,495.8 458.0,495.5 469.7,495.2 481.4,494.9 493.2,494.7 504.9,494.4 516.6,494.1 528.3,493.9 540.0,493.6 551.8,493.3 563.5,493.1 575.2,492.9 586.9,492.6 598.6,492.4 610.4,492.1 622.1,491.9 633.8,491.6 645.5,491.4 657.2,491.1 669.0,490.9 680.7,490.6" fill="none" stroke="#000" stroke-width="3" />
<rect x="183.5" y="507.6" width="9.8" height="9.8"/>
<rect x="195.3" y="505.9" width="9.8" height="9.8"/>
<rect x="207.0" y="504.1" width="9.8" height="9.8"/>
<rect x="218.7" y="502.9" width="9.8" height="9.8"/>
<rect x="230.4" y="501.7" width="9.8" height="9.8"/>
<rect x="242.1" y="500.8" width="9.8" height="9.8"/>
<rect x="253.9" y="499.9" width="9.8" height="9.8"/>
<rect x="265.6" y="499.1" width="9.8" height="9.8"/>
<rect x="277.3" y="498.4" width="9.8" height="9.8"/>
<rect x="289.0" y="497.7" width="9.8" height="9.8"/>
<rect x="300.7" y="496.9" width="9.8" height="9.8"/>
<rect x="312.5" y="496.2" width="9.8" height="9.8"/>
<rect x="324.2" y="495.5" width="9.8" height="9.8"/>
<rect x="335.9" y="494.9" width="9.8" height="9.8"/>
<rect x="347.6" y="494.3" width="9.8" height="9.8"/>
<rect x="359.3" y="493.8" width="9.8" height="9.8"/>
<rect x="371.1" y="493.2" width="9.8" height="9.8"/>
<rect x="382.8" y="492.7" width="9.8" height="9.8"/>
<rect x="394.5" y="492.1" width="9.8" height="9.8"/>
<rect x="406.2" y="491.8" width="9.8" height="9.8"/>
<rect x="417.9" y="491.5" width="9.8" height="9.8"/>
<rect x="429.7" y="491.2" width="9.8" height="9.8"/>
<rect x="441.4" y="490.9" width="9.8" height="9.8"/>
<rect x="453.1" y="490.6" width="9.8" height="9.8"/>
<rect x="464.8" y="490.3" width="9.8" height="9.8"/>
<rect x="476.5" y="490.0" width="9.8" height="9.8"/>
<rect x="488.3" y="489.8" width="9.8" height="9.8"/>
<rect x="500.0" y="489.5" width="9.8" height="9.8"/>
<rect x="511.7" y="489.2" width="9.8" height="9.8"/>
<rect x="523.4" y="489.0" width="9.8" height="9.8"/>
<rect x="535.1" y="488.7" width="9.8" height="9.8"/>
<rect x="546.9" y="488.4" width="9.8" height="9.8"/>
<rect x="558.6" y="488.2" width="9.8" height="9.8"/>
<rect x="570.3" y="488.0" width="9.8" height="9.8"/>
<rect x="582.0" y="487.7" width="9.8" height="9.8"/>
<rect x="593.7" y="487.5" width="9.8" height="9.8"/>
<rect x="605.5" y="487.2" width="9.8" height="9.8"/>
<rect x="617.2" y="487.0" width="9.8" height="9.8"/>
<rect x="628.9" y="486.7" width="9.8" height="9.8"/>
<rect x="640.6" y="486.5" width="9.8" height="9.8"/>
<rect x="652.3" y="486.2" width="9.8" height="9.8"/>
<rect x="664.1" y="486.0" width="9.8" height="9.8"/>
<rect x="675.8" y="485.7" width="9.8" height="9.8"/>
<polyline points="164.7,625.3 177.8,632.8 188.0,621.6 200.2,617.8 211.4,622.0 223.2,617.4 234.8,612.2 247.0,610.0 258.7,607.0 270.3,605.7 282.0,602.0 293.7,597.6 305.5,593.5 317.0,588.8 328.9,583.8 340.5,578.5 352.6,573.9 364.2,569.6 376.0,565.5 387.8,562.6 399.4,565.5 411.5,560.2 422.8,552.4 434.9,550.9 446.1,548.6 458.0,545.6 469.7,543.8 481.4,542.3 493.2,540.9 504.9,539.6 516.6,538.3 528.3,536.8 540.0,535.4 551.8,534.5 563.5,533.6 575.2,532.8 586.9,532.1 598.6,531.2 610.4,530.4 622.1,529.4 633.8,528.3 645.5,527.3 657.2,526.2 669.0,525.4 680.7,524.7 692.4,523.9 704.1,523.1 715.8,522.4 727.6,521.6 739.3,520.7 751.0,519.9" fill="none" stroke="#000" stroke-width="1.5" />
<circle cx="164.7" cy="625.3" r="4.9"/>
<circle cx="177.8" cy="632.8" r="4.9"/>
<circle cx="188.0" cy="621.6" r="4.9"/>
<circle cx="200.2" cy="617.8" r="4.9"/>
<circle cx="211.4" cy="622.0" r="4.9"/>
<circle cx="223.2" cy="617.4" r="4.9"/>
<circle cx="234.8" cy="612.2" r="4.9"/>
<circle cx="247.0" cy="610.0" r="4.9"/>
<circle cx="258.7" cy="607.0" r="4.9"/>
<circle cx="270.3" cy="605.7" r="4.9"/>
<circle cx="282.0" cy="602.0" r="4.9"/>
<circle cx="293.7" cy="597.6" r="4.9"/>
<circle cx="305.5" cy="593.5" r="4.9"/>
<circle cx="317.0" cy="588.8" r="4.9"/>
<circle cx="328.9" cy="583.8" r="4.9"/>
<circle cx="340.5" cy="578.5" r="4.9"/>
<circle cx="352.6" cy="573.9" r="4.9"/>
<circle cx="364.2" cy="569.6" r="4.9"/>
<circle cx="376.0" cy="565.5" r="4.9"/>
<circle cx="387.8" cy="562.6" r="4.9"/>
<circle cx="399.4" cy="565.5" r="4.9"/>
<circle cx="411.5" cy="560.2" r="4.9"/>
<circle cx="422.8" cy="552.4" r="4.9"/>
<circle cx="434.9" cy="550.9" r="4.9"/>
<circle cx="446.1" cy="548.6" r="4.9"/>
<circle cx="458.0" cy="545.6" r="4.9"/>
<circle cx="469.7" cy="543.8" r="4.9"/>
<circle cx="481.4" cy="542.3" r="4.9"/>
<circle cx="493.2" cy="540.9" r="4.9"/>
<circle cx="504.9" cy="539.6" r="4.9"/>
<circle cx="516.6" cy="538.3" r="4.9"/>
<circle cx="528.3" cy="536.8" r="4.9"/>
<circle cx="540.0" cy="535.4" r="4.9"/>
<circle cx="551.8" cy="534.5" r="4.9"/>
<circle cx="563.5" cy="533.6" r="4.9"/>
<circle cx="575.2" cy="532.8" r="4.9"/>
<circle cx="586.9" cy="532.1" r="4.9"/>
<circle cx="598.6" cy="531.2" r="4.9"/>
<circle cx="610.4" cy="530.4" r="4.9"/>
<circle cx="622.1" cy="529.4" r="4.9"/>
<circle cx="633.8" cy="528.3" r="4.9"/>
<circle cx="645.5" cy="527.3" r="4.9"/>
<circle cx="657.2" cy="526.2" r="4.9"/>
<circle cx="669.0" cy="525.4" r="4.9"/>
<circle cx="680.7" cy="524.7" r="4.9"/>
<circle cx="692.4" cy="523.9" r="4.9"/>
<circle cx="704.1" cy="523.1" r="4.9"/>
<circle cx="715.8" cy="522.4" r="4.9"/>
<circle cx="727.6" cy="521.6" r="4.9"/>
<circle cx="739.3" cy="520.7" r="4.9"/>
<circle cx="751.0" cy="519.9" r="4.9"/>
<line x1="467.5" y1="178.3" x2="357.4" y2="188.6" stroke="#000" stroke-width="3.2" />
<polygon points="336.5,190.6 358.9,183.2 359.9,193.7"/>
<line x1="277.0" y1="439.5" x2="399.7" y2="420.7" stroke="#000" stroke-width="3.2" />
<polygon points="420.5,417.5 398.5,425.9 397.0,416.0"/>
<line x1="551.5" y1="470.5" x2="603.0" y2="470.5" stroke="#000" stroke-width="3.2" />
<polygon points="624.0,470.5 601.0,475.5 601.0,465.5"/>
<line x1="1092.8" y1="150.2" x2="1110.7" y2="150.2" stroke="#000" stroke-width="3.0" />
<line x1="1810.0" y1="150.2" x2="1794.5" y2="150.2" stroke="#000" stroke-width="3.0" />
<line x1="1092.8" y1="276.9" x2="1110.7" y2="276.9" stroke="#000" stroke-width="3.0" />
<line x1="1810.0" y1="276.9" x2="1794.5" y2="276.9" stroke="#000" stroke-width="3.0" />
<line x1="1092.8" y1="238.8" x2="1103.0" y2="238.8" stroke="#000" stroke-width="2.3" />
<line x1="1810.0" y1="238.8" x2="1801.0" y2="238.8" stroke="#000" stroke-width="2.3" />
<line x1="1092.8" y1="216.4" x2="1103.0" y2="216.4" stroke="#000" stroke-width="2.3" />
<line x1="1810.0" y1="216.4" x2="1801.0" y2="216.4" stroke="#000" stroke-width="2.3" />
<line x1="1092.8" y1="200.6" x2="1103.0" y2="200.6" stroke="#000" stroke-width="2.3" />
<line x1="1810.0" y1="200.6" x2="1801.0" y2="200.6" stroke="#000" stroke-width="2.3" />
<line x1="1092.8" y1="188.3" x2="1103.0" y2="188.3" stroke="#000" stroke-width="2.3" />
<line x1="1810.0" y1="188.3" x2="1801.0" y2="188.3" stroke="#000" stroke-width="2.3" />
<line x1="1092.8" y1="178.3" x2="1103.0" y2="178.3" stroke="#000" stroke-width="2.3" />
<line x1="1810.0" y1="178.3" x2="1801.0" y2="178.3" stroke="#000" stroke-width="2.3" />
<line x1="1092.8" y1="169.8" x2="1103.0" y2="169.8" stroke="#000" stroke-width="2.3" />
<line x1="1810.0" y1="169.8" x2="1801.0" y2="169.8" stroke="#000" stroke-width="2.3" />
<line x1="1092.8" y1="162.5" x2="1103.0" y2="162.5" stroke="#000" stroke-width="2.3" />
<line x1="1810.0" y1="162.5" x2="1801.0" y2="162.5" stroke="#000" stroke-width="2.3" />
<line x1="1092.8" y1="156.0" x2="1103.0" y2="156.0" stroke="#000" stroke-width="2.3" />
<line x1="1810.0" y1="156.0" x2="1801.0" y2="156.0" stroke="#000" stroke-width="2.3" />
<line x1="1092.8" y1="403.6" x2="1110.7" y2="403.6" stroke="#000" stroke-width="3.0" />
<line x1="1810.0" y1="403.6" x2="1794.5" y2="403.6" stroke="#000" stroke-width="3.0" />
<line x1="1092.8" y1="365.5" x2="1103.0" y2="365.5" stroke="#000" stroke-width="2.3" />
<line x1="1810.0" y1="365.5" x2="1801.0" y2="365.5" stroke="#000" stroke-width="2.3" />
<line x1="1092.8" y1="343.1" x2="1103.0" y2="343.1" stroke="#000" stroke-width="2.3" />
<line x1="1810.0" y1="343.1" x2="1801.0" y2="343.1" stroke="#000" stroke-width="2.3" />
<line x1="1092.8" y1="327.3" x2="1103.0" y2="327.3" stroke="#000" stroke-width="2.3" />
<line x1="1810.0" y1="327.3" x2="1801.0" y2="327.3" stroke="#000" stroke-width="2.3" />
<line x1="1092.8" y1="315.0" x2="1103.0" y2="315.0" stroke="#000" stroke-width="2.3" />
<line x1="1810.0" y1="315.0" x2="1801.0" y2="315.0" stroke="#000" stroke-width="2.3" />
<line x1="1092.8" y1="305.0" x2="1103.0" y2="305.0" stroke="#000" stroke-width="2.3" />
<line x1="1810.0" y1="305.0" x2="1801.0" y2="305.0" stroke="#000" stroke-width="2.3" />
<line x1="1092.8" y1="296.5" x2="1103.0" y2="296.5" stroke="#000" stroke-width="2.3" />
<line x1="1810.0" y1="296.5" x2="1801.0" y2="296.5" stroke="#000" stroke-width="2.3" />
<line x1="1092.8" y1="289.2" x2="1103.0" y2="289.2" stroke="#000" stroke-width="2.3" />
<line x1="1810.0" y1="289.2" x2="1801.0" y2="289.2" stroke="#000" stroke-width="2.3" />
<line x1="1092.8" y1="282.7" x2="1103.0" y2="282.7" stroke="#000" stroke-width="2.3" />
<line x1="1810.0" y1="282.7" x2="1801.0" y2="282.7" stroke="#000" stroke-width="2.3" />
<line x1="1092.8" y1="530.3" x2="1110.7" y2="530.3" stroke="#000" stroke-width="3.0" />
<line x1="1810.0" y1="530.3" x2="1794.5" y2="530.3" stroke="#000" stroke-width="3.0" />
<line x1="1092.8" y1="492.2" x2="1103.0" y2="492.2" stroke="#000" stroke-width="2.3" />
<line x1="1810.0" y1="492.2" x2="1801.0" y2="492.2" stroke="#000" stroke-width="2.3" />
<line x1="1092.8" y1="469.8" x2="1103.0" y2="469.8" stroke="#000" stroke-width="2.3" />
<line x1="1810.0" y1="469.8" x2="1801.0" y2="469.8" stroke="#000" stroke-width="2.3" />
<line x1="1092.8" y1="454.0" x2="1103.0" y2="454.0" stroke="#000" stroke-width="2.3" />
<line x1="1810.0" y1="454.0" x2="1801.0" y2="454.0" stroke="#000" stroke-width="2.3" />
<line x1="1092.8" y1="441.7" x2="1103.0" y2="441.7" stroke="#000" stroke-width="2.3" />
<line x1="1810.0" y1="441.7" x2="1801.0" y2="441.7" stroke="#000" stroke-width="2.3" />
<line x1="1092.8" y1="431.7" x2="1103.0" y2="431.7" stroke="#000" stroke-width="2.3" />
<line x1="1810.0" y1="431.7" x2="1801.0" y2="431.7" stroke="#000" stroke-width="2.3" />
<line x1="1092.8" y1="423.2" x2="1103.0" y2="423.2" stroke="#000" stroke-width="2.3" />
<line x1="1810.0" y1="423.2" x2="1801.0" y2="423.2" stroke="#000" stroke-width="2.3" />
<line x1="1092.8" y1="415.9" x2="1103.0" y2="415.9" stroke="#000" stroke-width="2.3" />
<line x1="1810.0" y1="415.9" x2="1801.0" y2="415.9" stroke="#000" stroke-width="2.3" />
<line x1="1092.8" y1="409.4" x2="1103.0" y2="409.4" stroke="#000" stroke-width="2.3" />
<line x1="1810.0" y1="409.4" x2="1801.0" y2="409.4" stroke="#000" stroke-width="2.3" />
<line x1="1092.8" y1="618.9" x2="1103.0" y2="618.9" stroke="#000" stroke-width="2.3" />
<line x1="1810.0" y1="618.9" x2="1801.0" y2="618.9" stroke="#000" stroke-width="2.3" />
<line x1="1092.8" y1="596.5" x2="1103.0" y2="596.5" stroke="#000" stroke-width="2.3" />
<line x1="1810.0" y1="596.5" x2="1801.0" y2="596.5" stroke="#000" stroke-width="2.3" />
<line x1="1092.8" y1="580.7" x2="1103.0" y2="580.7" stroke="#000" stroke-width="2.3" />
<line x1="1810.0" y1="580.7" x2="1801.0" y2="580.7" stroke="#000" stroke-width="2.3" />
<line x1="1092.8" y1="568.4" x2="1103.0" y2="568.4" stroke="#000" stroke-width="2.3" />
<line x1="1810.0" y1="568.4" x2="1801.0" y2="568.4" stroke="#000" stroke-width="2.3" />
<line x1="1092.8" y1="558.4" x2="1103.0" y2="558.4" stroke="#000" stroke-width="2.3" />
<line x1="1810.0" y1="558.4" x2="1801.0" y2="558.4" stroke="#000" stroke-width="2.3" />
<line x1="1092.8" y1="549.9" x2="1103.0" y2="549.9" stroke="#000" stroke-width="2.3" />
<line x1="1810.0" y1="549.9" x2="1801.0" y2="549.9" stroke="#000" stroke-width="2.3" />
<line x1="1092.8" y1="542.6" x2="1103.0" y2="542.6" stroke="#000" stroke-width="2.3" />
<line x1="1810.0" y1="542.6" x2="1801.0" y2="542.6" stroke="#000" stroke-width="2.3" />
<line x1="1092.8" y1="536.1" x2="1103.0" y2="536.1" stroke="#000" stroke-width="2.3" />
<line x1="1810.0" y1="536.1" x2="1801.0" y2="536.1" stroke="#000" stroke-width="2.3" />
<line x1="1183.1" y1="111.8" x2="1183.1" y2="119.8" stroke="#000" stroke-width="3.6" />
<line x1="1183.1" y1="656.5" x2="1183.1" y2="648.3" stroke="#000" stroke-width="3.6" />
<line x1="1272.8" y1="111.8" x2="1272.8" y2="128.5" stroke="#000" stroke-width="4" />
<line x1="1272.8" y1="656.5" x2="1272.8" y2="640.8" stroke="#000" stroke-width="4" />
<line x1="1362.4" y1="111.8" x2="1362.4" y2="119.8" stroke="#000" stroke-width="3.6" />
<line x1="1362.4" y1="656.5" x2="1362.4" y2="648.3" stroke="#000" stroke-width="3.6" />
<line x1="1452.0" y1="111.8" x2="1452.0" y2="128.5" stroke="#000" stroke-width="4" />
<line x1="1452.0" y1="656.5" x2="1452.0" y2="640.8" stroke="#000" stroke-width="4" />
<line x1="1541.6" y1="111.8" x2="1541.6" y2="119.8" stroke="#000" stroke-width="3.6" />
<line x1="1541.6" y1="656.5" x2="1541.6" y2="648.3" stroke="#000" stroke-width="3.6" />
<line x1="1631.2" y1="111.8" x2="1631.2" y2="128.5" stroke="#000" stroke-width="4" />
<line x1="1631.2" y1="656.5" x2="1631.2" y2="640.8" stroke="#000" stroke-width="4" />
<line x1="1720.9" y1="111.8" x2="1720.9" y2="119.8" stroke="#000" stroke-width="3.6" />
<line x1="1720.9" y1="656.5" x2="1720.9" y2="648.3" stroke="#000" stroke-width="3.6" />
<line x1="1092.8" y1="109.2" x2="1092.8" y2="659.1" stroke="#000" stroke-width="4.6" />
<line x1="1090.7" y1="111.8" x2="1812.5" y2="111.8" stroke="#000" stroke-width="5.2" />
<line x1="1090.7" y1="656.5" x2="1812.5" y2="656.5" stroke="#000" stroke-width="5.2" />
<line x1="1810.0" y1="111.8" x2="1810.0" y2="656.5" stroke="#000" stroke-width="5.0" />
<text x="1074.5" y="166.2" font-size="44.6" text-anchor="end">10<tspan dy="-23" dx="-0.5" font-size="24.5">-10</tspan></text>
<text x="1074.5" y="292.9" font-size="44.6" text-anchor="end">10<tspan dy="-23" dx="-0.5" font-size="24.5">-11</tspan></text>
<text x="1074.5" y="419.6" font-size="44.6" text-anchor="end">10<tspan dy="-23" dx="-0.5" font-size="24.5">-12</tspan></text>
<text x="1074.5" y="546.3" font-size="44.6" text-anchor="end">10<tspan dy="-23" dx="-0.5" font-size="24.5">-13</tspan></text>
<text x="1074.5" y="673.0" font-size="44.6" text-anchor="end">10<tspan dy="-23" dx="-0.5" font-size="24.5">-14</tspan></text>
<text x="1093.0" y="708.4" font-size="43.5" text-anchor="middle" font-weight="normal" >2.0</text>
<text x="1272.2" y="708.4" font-size="43.5" text-anchor="middle" font-weight="normal" >2.5</text>
<text x="1451.5" y="708.4" font-size="43.5" text-anchor="middle" font-weight="normal" >3.0</text>
<text x="1630.8" y="708.4" font-size="43.5" text-anchor="middle" font-weight="normal" >3.5</text>
<text x="1810.0" y="708.4" font-size="43.5" text-anchor="middle" font-weight="normal" >4.0</text>
<text x="1341" y="787" font-size="43.1">1000/T (K<tspan dy="-17" font-size="25">-1</tspan><tspan dy="17">)</tspan></text>
<text transform="translate(963.8,411.2) rotate(-90)" font-size="43" text-anchor="middle">Off state current (A)</text>
<text transform="translate(917,95.2) scale(0.87,1)" font-size="71" style="stroke-width:0.3px">b</text>
<text transform="translate(959,93.5) scale(0.85,1)" font-size="70" style="stroke-width:0.3px">)</text>
<line x1="1254.3" y1="230.5" x2="1745.5" y2="642.0" stroke="#000" stroke-width="2.0" />
<line x1="1318.2" y1="210.3" x2="1639.3" y2="558.8" stroke="#000" stroke-width="2.0" />
<circle cx="1294.8" cy="246.1" r="10.8"/>
<circle cx="1319.7" cy="282.6" r="10.8"/>
<circle cx="1345.3" cy="302.2" r="10.8"/>
<circle cx="1372.7" cy="339.6" r="10.8"/>
<circle cx="1400.7" cy="366.7" r="10.8"/>
<circle cx="1430.3" cy="401.9" r="10.8"/>
<circle cx="1462.4" cy="416.5" r="10.8"/>
<circle cx="1496.5" cy="434.5" r="10.8"/>
<circle cx="1532.8" cy="464.6" r="10.8"/>
<circle cx="1571.2" cy="469.8" r="10.8"/>
<circle cx="1613.1" cy="501.2" r="10.8"/>
<circle cx="1656.7" cy="550.1" r="10.8"/>
<circle cx="1703.3" cy="644.6" r="10.8"/>
<rect x="1335.5" y="225.3" width="18.5" height="18.5"/>
<rect x="1362.5" y="245.2" width="18.5" height="18.5"/>
<rect x="1390.8" y="282.1" width="18.5" height="18.5"/>
<rect x="1422.0" y="328.8" width="18.5" height="18.5"/>
<rect x="1453.8" y="375.9" width="18.5" height="18.5"/>
<rect x="1488.0" y="406.2" width="18.5" height="18.5"/>
<rect x="1523.8" y="443.1" width="18.5" height="18.5"/>
<rect x="1562.0" y="473.2" width="18.5" height="18.5"/>
<rect x="1603.8" y="501.1" width="18.5" height="18.5"/>
<circle cx="1171.6" cy="551.9" r="10.8"/>
<rect x="1163.0" y="590.4" width="18.5" height="18.5"/>
<text x="1228.0" y="565.3" font-size="38.8" text-anchor="start" font-weight="normal" >1L-OBD</text>
<text x="1228.0" y="613.4" font-size="38.8" text-anchor="start" font-weight="normal" >3L-OBD</text>
<rect x="1440.5" y="8" width="370" height="306" fill="#fff" stroke="#000" stroke-width="3.1"/><line x1="1810.7" y1="6.5" x2="1810.7" y2="315.5" stroke="#000" stroke-width="4.6"/>
<rect x="1532.9" y="42.2" width="255.39999999999986" height="193.60000000000002" fill="none" stroke="#000" stroke-width="2.2"/>
<line x1="1557.5" y1="42.2" x2="1557.5" y2="47.7" stroke="#000" stroke-width="1.8" />
<line x1="1557.5" y1="235.8" x2="1557.5" y2="230.3" stroke="#000" stroke-width="1.8" />
<line x1="1583.2" y1="42.2" x2="1583.2" y2="45.2" stroke="#000" stroke-width="1.8" />
<line x1="1583.2" y1="235.8" x2="1583.2" y2="232.8" stroke="#000" stroke-width="1.8" />
<line x1="1609.0" y1="42.2" x2="1609.0" y2="47.7" stroke="#000" stroke-width="1.8" />
<line x1="1609.0" y1="235.8" x2="1609.0" y2="230.3" stroke="#000" stroke-width="1.8" />
<line x1="1634.8" y1="42.2" x2="1634.8" y2="45.2" stroke="#000" stroke-width="1.8" />
<line x1="1634.8" y1="235.8" x2="1634.8" y2="232.8" stroke="#000" stroke-width="1.8" />
<line x1="1660.5" y1="42.2" x2="1660.5" y2="47.7" stroke="#000" stroke-width="1.8" />
<line x1="1660.5" y1="235.8" x2="1660.5" y2="230.3" stroke="#000" stroke-width="1.8" />
<line x1="1686.2" y1="42.2" x2="1686.2" y2="45.2" stroke="#000" stroke-width="1.8" />
<line x1="1686.2" y1="235.8" x2="1686.2" y2="232.8" stroke="#000" stroke-width="1.8" />
<line x1="1712.0" y1="42.2" x2="1712.0" y2="47.7" stroke="#000" stroke-width="1.8" />
<line x1="1712.0" y1="235.8" x2="1712.0" y2="230.3" stroke="#000" stroke-width="1.8" />
<line x1="1737.8" y1="42.2" x2="1737.8" y2="45.2" stroke="#000" stroke-width="1.8" />
<line x1="1737.8" y1="235.8" x2="1737.8" y2="232.8" stroke="#000" stroke-width="1.8" />
<line x1="1763.5" y1="42.2" x2="1763.5" y2="47.7" stroke="#000" stroke-width="1.8" />
<line x1="1763.5" y1="235.8" x2="1763.5" y2="230.3" stroke="#000" stroke-width="1.8" />
<line x1="1532.9" y1="211.6" x2="1536.1" y2="211.6" stroke="#000" stroke-width="1.8" />
<line x1="1788.3" y1="211.6" x2="1785.1" y2="211.6" stroke="#000" stroke-width="1.8" />
<line x1="1532.9" y1="187.4" x2="1538.9" y2="187.4" stroke="#000" stroke-width="1.8" />
<line x1="1788.3" y1="187.4" x2="1782.3" y2="187.4" stroke="#000" stroke-width="1.8" />
<line x1="1532.9" y1="163.2" x2="1536.1" y2="163.2" stroke="#000" stroke-width="1.8" />
<line x1="1788.3" y1="163.2" x2="1785.1" y2="163.2" stroke="#000" stroke-width="1.8" />
<line x1="1532.9" y1="139.0" x2="1538.9" y2="139.0" stroke="#000" stroke-width="1.8" />
<line x1="1788.3" y1="139.0" x2="1782.3" y2="139.0" stroke="#000" stroke-width="1.8" />
<line x1="1532.9" y1="114.8" x2="1536.1" y2="114.8" stroke="#000" stroke-width="1.8" />
<line x1="1788.3" y1="114.8" x2="1785.1" y2="114.8" stroke="#000" stroke-width="1.8" />
<line x1="1532.9" y1="90.6" x2="1538.9" y2="90.6" stroke="#000" stroke-width="1.8" />
<line x1="1788.3" y1="90.6" x2="1782.3" y2="90.6" stroke="#000" stroke-width="1.8" />
<line x1="1532.9" y1="66.4" x2="1536.1" y2="66.4" stroke="#000" stroke-width="1.8" />
<line x1="1788.3" y1="66.4" x2="1785.1" y2="66.4" stroke="#000" stroke-width="1.8" />
<text x="1524.8" y="48.2" font-size="17.3" text-anchor="end" font-weight="bold" style="stroke-width:0.2px">0.11</text>
<text x="1524.8" y="96.6" font-size="17.3" text-anchor="end" font-weight="bold" style="stroke-width:0.2px">0.10</text>
<text x="1524.8" y="145.0" font-size="17.3" text-anchor="end" font-weight="bold" style="stroke-width:0.2px">0.09</text>
<text x="1524.8" y="193.4" font-size="17.3" text-anchor="end" font-weight="bold" style="stroke-width:0.2px">0.08</text>
<text x="1524.8" y="241.8" font-size="17.3" text-anchor="end" font-weight="bold" style="stroke-width:0.2px">0.07</text>
<text x="1558.3" y="256.6" font-size="17.3" text-anchor="middle" font-weight="bold" style="stroke-width:0.2px">100</text>
<text x="1609.8" y="256.6" font-size="17.3" text-anchor="middle" font-weight="bold" style="stroke-width:0.2px">150</text>
<text x="1661.3" y="256.6" font-size="17.3" text-anchor="middle" font-weight="bold" style="stroke-width:0.2px">200</text>
<text x="1712.8" y="256.6" font-size="17.3" text-anchor="middle" font-weight="bold" style="stroke-width:0.2px">250</text>
<text x="1764.3" y="256.6" font-size="17.3" text-anchor="middle" font-weight="bold" style="stroke-width:0.2px">300</text>
<text x="1663.5" y="287.0" font-size="18.7" text-anchor="middle" font-weight="bold" style="stroke-width:0.2px">Temperature (K)</text>
<text transform="translate(1481.3,149) rotate(-90)" font-size="18.4" font-weight="bold" text-anchor="middle" style="stroke-width:0.2px">On-state current (A)</text>
<polyline points="1557.5,71.7 1567.8,80.2 1578.1,86.8 1588.4,110.9 1598.7,111.5 1609.0,110.4 1619.3,102.7 1629.6,98.6 1639.9,104.0 1650.2,104.9 1660.5,117.8 1670.8,120.5 1681.1,116.1 1691.4,126.5 1701.7,128.7 1712.0,135.0 1722.3,143.3 1732.6,146.6 1742.9,158.4 1753.2,163.8 1763.5,191.8 1773.8,224.2" fill="none" stroke="#000" stroke-width="1.5" />
<polyline points="1557.5,82.1 1609.0,117.8 1660.5,118.3 1712.0,186.9 1763.5,203.6" fill="none" stroke="#000" stroke-width="1.5" />
<rect x="1554.2" y="68.4" width="6.6" height="6.6"/>
<rect x="1564.5" y="76.9" width="6.6" height="6.6"/>
<rect x="1574.8" y="83.5" width="6.6" height="6.6"/>
<rect x="1585.1" y="107.6" width="6.6" height="6.6"/>
<rect x="1595.4" y="108.2" width="6.6" height="6.6"/>
<rect x="1605.7" y="107.1" width="6.6" height="6.6"/>
<rect x="1616.0" y="99.4" width="6.6" height="6.6"/>
<rect x="1626.3" y="95.3" width="6.6" height="6.6"/>
<rect x="1636.6" y="100.7" width="6.6" height="6.6"/>
<rect x="1646.9" y="101.6" width="6.6" height="6.6"/>
<rect x="1657.2" y="114.5" width="6.6" height="6.6"/>
<rect x="1667.5" y="117.2" width="6.6" height="6.6"/>
<rect x="1677.8" y="112.8" width="6.6" height="6.6"/>
<rect x="1688.1" y="123.2" width="6.6" height="6.6"/>
<rect x="1698.4" y="125.4" width="6.6" height="6.6"/>
<rect x="1708.7" y="131.7" width="6.6" height="6.6"/>
<rect x="1719.0" y="140.0" width="6.6" height="6.6"/>
<rect x="1729.3" y="143.3" width="6.6" height="6.6"/>
<rect x="1739.6" y="155.1" width="6.6" height="6.6"/>
<rect x="1749.9" y="160.5" width="6.6" height="6.6"/>
<rect x="1760.2" y="188.5" width="6.6" height="6.6"/>
<rect x="1770.5" y="220.9" width="6.6" height="6.6"/>
<circle cx="1557.5" cy="82.1" r="3.3"/>
<circle cx="1609.0" cy="117.8" r="3.3"/>
<circle cx="1660.5" cy="118.3" r="3.3"/>
<circle cx="1712.0" cy="186.9" r="3.3"/>
<circle cx="1763.5" cy="203.6" r="3.3"/>
<line x1="1555.3" y1="198.3" x2="1564.5" y2="198.3" stroke="#000" stroke-width="1.8" />
<line x1="1576.0" y1="198.3" x2="1585.5" y2="198.3" stroke="#000" stroke-width="1.8" />
<line x1="1564.0" y1="198.3" x2="1576.0" y2="198.3" stroke="#000" stroke-width="1.2" />
<rect x="1567.2" y="195.3" width="6" height="6"/>
<text x="1590.3" y="204.1" font-size="16.4" text-anchor="start" font-weight="normal" style="stroke-width:0.45px">3L-OBD</text>
<line x1="1555.3" y1="218.5" x2="1564.5" y2="218.5" stroke="#000" stroke-width="1.8" />
<line x1="1576.0" y1="218.5" x2="1585.5" y2="218.5" stroke="#000" stroke-width="1.8" />
<line x1="1564.0" y1="218.5" x2="1576.0" y2="218.5" stroke="#000" stroke-width="1.2" />
<circle cx="1570.2" cy="218.5" r="3.0"/>
<text x="1590.3" y="224.3" font-size="16.4" text-anchor="start" font-weight="normal" style="stroke-width:0.45px">1L-OBD</text>
</svg>
</body></html>
